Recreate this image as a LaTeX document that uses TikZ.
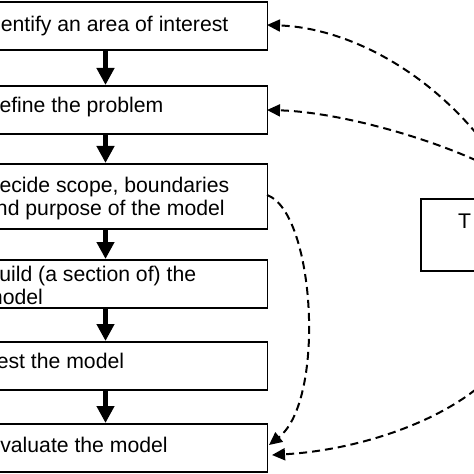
\documentclass[tikz,border=0pt]{standalone}
\usepackage{fontspec}
\setmainfont{Liberation Sans}
\usetikzlibrary{arrows.meta}
\tikzset{
  box/.style={draw=black, line width=1.8bp, rectangle, minimum width=296.5bp, anchor=north west, inner sep=0pt},
  txt/.style={font=\fontsize{21.2bp}{22.5bp}\selectfont, inner sep=0pt, anchor=base west, align=left},
  flow/.style={line width=5bp, -{Triangle[width=17bp,length=17bp]}},
  fb/.style={dash pattern=on 8bp off 5bp, line width=2bp, -{Triangle[width=12bp,length=13bp]}}
}
\begin{document}
\begin{tikzpicture}[x=1bp,y=-1bp]
\useasboundingbox (0,0) rectangle (474,474);
\fill[white] (0,0) rectangle (474,474);
\clip (0,0) rectangle (474,474);
% boxes
\node[box, minimum height=48bp] (b1) at (-30,1) {};
\node[box, minimum height=48bp] (b2) at (-30,85) {};
\node[box, minimum height=65bp] (b3) at (-30,163) {};
\node[box, minimum height=48bp] (b4) at (-30,259) {};
\node[box, minimum height=48bp] (b5) at (-30,341) {};
\node[box, minimum height=48bp] (b6) at (-30,423) {};
\node[box, minimum width=120bp, minimum height=72bp] (tb) at (420,198) {};
% texts (multi-line nodes anchored at the baseline of their last line)
\node[txt] (t1) at (-17,32) {Identify an area of interest};
\node[txt] (t2) at (-16,113) {Define the problem};
\node[txt] (t3) at (-16,215.5) {Decide scope, boundaries\\and purpose of the model};
\node[txt] (t4) at (-15,304) {Build (a section of) the\\model};
\node[txt] (t5) at (-14,368) {Test the model};
\node[txt] (t6) at (-14,452) {Evaluate the model};
\node[txt] (tt) at (458,229) {T};
% flow arrows
\coordinate (ax) at (105.5,0);
\draw[flow] (b1.south -| ax) -- (b2.north -| ax);
\draw[flow] (b2.south -| ax) -- (b3.north -| ax);
\draw[flow] (b3.south -| ax) -- (b4.north -| ax);
\draw[flow] (b4.south -| ax) -- (b5.north -| ax);
\draw[flow] (b5.south -| ax) -- (b6.north -| ax);
% feedback arrows
\coordinate (s1) at (500,165);
\coordinate (s2) at (500,172);
\coordinate (s4) at (495,372);
\coordinate (e1) at (267,25);
\coordinate (e2) at (267,110);
\coordinate (e3) at (269,445);
\coordinate (e4) at (272,455);
\coordinate (o3) at (267,195);
\draw[fb] (s1) .. controls (440,75) and (350,28) .. (e1);
\draw[fb] (s2) .. controls (440,140) and (340,112) .. (e2);
\draw[fb] (o3) .. controls (315,212) and (326,400) .. (e3);
\draw[fb] (s4) .. controls (450,420) and (360,450) .. (e4);
\end{tikzpicture}
\end{document}
